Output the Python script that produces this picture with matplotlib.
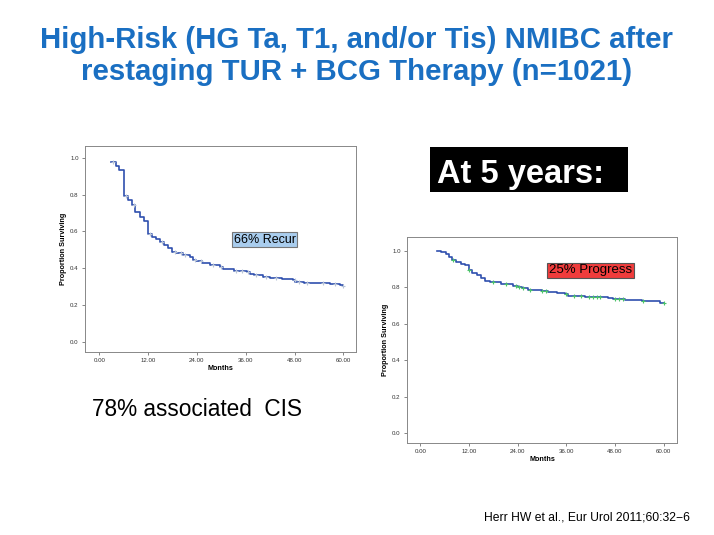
import matplotlib
matplotlib.use("Agg")
import matplotlib.pyplot as plt
from matplotlib.patches import Rectangle

plt.rcParams['font.family'] = ['Liberation Sans', 'DejaVu Sans']

# Recurrence-free curve (left)
rec_months = [2.9, 4.0, 4.9, 6.0, 7.0, 8.0, 8.9, 9.9, 10.9, 11.9, 12.9, 13.9, 14.9, 15.9, 17.0,
              18.0, 18.9, 20.7, 22.3, 23.1, 23.9, 25.2, 27.2, 29.7, 30.5, 33.0, 36.2, 37.0, 38.0,
              40.3, 42.0, 45.0, 47.7, 48.1, 50.2, 53.4, 56.7, 59.2, 60.0]
rec_surv = [0.975, 0.957, 0.933, 0.793, 0.770, 0.743, 0.703, 0.680, 0.656, 0.587, 0.571, 0.556,
            0.540, 0.524, 0.507, 0.490, 0.482, 0.471, 0.458, 0.444, 0.437, 0.429, 0.418, 0.404,
            0.393, 0.386, 0.379, 0.370, 0.362, 0.353, 0.348, 0.342, 0.335, 0.324, 0.321, 0.317,
            0.312, 0.306, 0.305]
rec_cens_m = [3.5, 6.5, 8.5, 12.5, 15.5, 18.5, 20.0, 21.0, 23.5, 25.0, 28.0, 30.0, 33.5, 35.0,
              36.5, 38.5, 41.0, 43.5, 48.0, 49.0, 51.0, 55.0, 58.0, 60.0]

# Progression-free curve (right)
prog_months = [4.1, 5.2, 6.2, 7.0, 7.8, 8.9, 10.0, 11.0, 12.0, 12.8, 13.9, 14.9, 15.9, 17.1,
               18.4, 20.0, 21.7, 22.9, 24.0, 25.0, 26.6, 29.9, 31.6, 33.6, 35.7, 36.5, 39.8,
               40.6, 46.4, 47.6, 50.5, 54.6, 58.0, 59.2, 60.0]
prog_surv = [1.000, 0.995, 0.985, 0.967, 0.953, 0.940, 0.931, 0.925, 0.894, 0.881, 0.870, 0.849,
             0.836, 0.830, 0.827, 0.821, 0.816, 0.808, 0.801, 0.794, 0.786, 0.781, 0.776, 0.770,
             0.763, 0.755, 0.752, 0.748, 0.743, 0.735, 0.732, 0.728, 0.724, 0.717, 0.715]
prog_cens_m = [8.0, 12.0, 18.0, 21.0, 23.5, 24.3, 25.2, 27.0, 30.0, 31.0, 36.0, 38.0, 39.5,
               41.5, 42.5, 43.5, 44.3, 48.0, 49.0, 50.0, 55.0, 60.0]

xticks = [0, 12, 24, 36, 48, 60]
xticklabels = ["0.00", "12.00", "24.00", "36.00", "48.00", "60.00"]
yticks = [0.0, 0.2, 0.4, 0.6, 0.8, 1.0]
yticklabels = ["0.0", "0.2", "0.4", "0.6", "0.8", "1.0"]

W, H = 714, 535
fig = plt.figure(figsize=(W / 100, H / 100), dpi=100)
fig.patch.set_facecolor('white')


def px_axes(x0, y0, x1, y1):
    return fig.add_axes([x0 / W, 1 - y1 / H, (x1 - x0) / W, (y1 - y0) / H])


def surv_at(ms, ss, t):
    v = ss[0]
    for m, s in zip(ms, ss):
        if m <= t:
            v = s
    return v


def km_axes(ax, months, surv, cens, cens_color, xlim, ylim):
    ax.step(months, surv, where='post', color='#2f4fae', lw=1.2, zorder=3)
    cy = [surv_at(months, surv, c) for c in cens]
    ax.plot(cens, cy, linestyle='none', marker='+', ms=3.5, mew=0.8,
            color=cens_color, zorder=4)
    ax.set_xlim(*xlim)
    ax.set_ylim(*ylim)
    ax.set_xticks(xticks)
    ax.set_xticklabels(xticklabels)
    ax.set_yticks(yticks)
    ax.set_yticklabels(yticklabels)
    ax.tick_params(labelsize=4.4, length=2.5, width=0.5, colors='#555555',
                   labelcolor='#333333', pad=2)
    for s in ax.spines.values():
        s.set_color('#888888')
        s.set_linewidth(0.7)
    ax.set_xlabel('Months', fontsize=5.2, fontweight='bold', labelpad=1.5)
    ax.set_ylabel('Proportion Surviving', fontsize=5.2, fontweight='bold', labelpad=2)


ax1 = px_axes(85, 146, 356, 352)
km_axes(ax1, rec_months, rec_surv, rec_cens_m, '#b8c4d8', (-3.5, 63.1), (-0.056, 1.064))
ax1.text(33.1, 0.553, '66% Recur', fontsize=9, va='center', ha='left', zorder=5,
         bbox=dict(boxstyle='square,pad=0.12', facecolor='#a9cdee', edgecolor='#777777', lw=0.8))

ax2 = px_axes(407, 237, 677, 443)
km_axes(ax2, prog_months, prog_surv, prog_cens_m, '#4cc36a', (-3.3, 63.3), (-0.055, 1.077))
ax2.text(31.7, 0.893, '25% Progress', fontsize=9.5, va='center', ha='left', zorder=5,
         bbox=dict(boxstyle='square,pad=0.12', facecolor='#f03c3c', edgecolor='#555555', lw=0.8))

title_color = '#1a6fc2'
fig.text(357 / W, 1 - 48.5 / H, 'High-Risk (HG Ta, T1, and/or Tis) NMIBC after',
         fontsize=21.2, fontweight='bold', color=title_color, ha='center', va='baseline')
fig.text(357 / W, 1 - 80.5 / H, 'restaging TUR + BCG Therapy (n=1021)',
         fontsize=21.2, fontweight='bold', color=title_color, ha='center', va='baseline')

fig.patches.append(Rectangle((430 / W, 1 - 192 / H), 198 / W, 45 / H,
                             transform=fig.transFigure, facecolor='black',
                             edgecolor='none', zorder=1))
fig.text(437 / W, 1 - 183 / H, 'At 5 years:', fontsize=23.5, fontweight='bold', color='white',
         ha='left', va='baseline', zorder=2)

fig.text(92 / W, 1 - 410 / H, '78% associated  CIS', fontsize=16.3, color='black',
         ha='left', va='center')

fig.text(690 / W, 1 - 517 / H, 'Herr HW et al., Eur Urol 2011;60:32\u22126', fontsize=8.7,
         color='black', ha='right', va='center')

fig.savefig('out.png', dpi=100, facecolor='white')
